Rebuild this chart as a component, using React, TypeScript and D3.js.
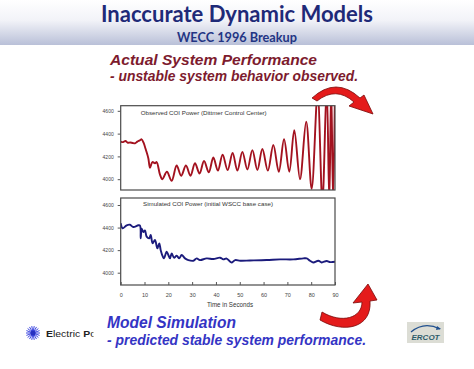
import React, { useEffect, useRef } from "react";
import * as d3 from "d3";

// observed COI power (Dittmer), seconds / MW
const observedTime = [
  0, 1, 2, 3, 4, 5, 6, 7, 8, 8.8, 9.6, 10.6, 11.6, 12.3, 13.3, 14.4, 15.1,
  16.5, 17.5, 19.4, 21.4, 23.5, 25.4, 27.4, 29.3, 31.2, 33.1, 35.0, 37.0,
  38.9, 40.8, 42.8, 44.9, 47.0, 49.0, 51.1, 53.2, 55.3, 57.4, 59.5, 61.8,
  64.1, 66.4, 68.6, 70.8, 72.9, 75.3, 77.9, 80.2, 82.7, 84.7, 86.5, 87.6,
  88.4, 89.2, 90,
];
const observedPower = [
  4330, 4325, 4335, 4320, 4322, 4318, 4315, 4330, 4340, 4350, 4320, 4256,
  4184, 4100, 4150, 4140, 4150, 4040, 4000, 4065, 3985, 4120, 4030, 4120,
  4030, 4140, 4050, 4160, 4060, 4190, 4075, 4215, 4080, 4230, 4075, 4240,
  4085, 4255, 4080, 4265, 4075, 4300, 4065, 4350, 4065, 4430, 4000, 4505,
  3915, 4760, 3800, 4820, 3800, 4820, 3800, 4820,
];

// simulated COI power (initial WSCC base case)
const simulatedTime = [
  0, 0.8, 2.5, 3.9, 5.3, 7.4, 8.1, 8.4, 8.8, 9.5, 10.2, 10.9, 12.0, 12.6,
  13.4, 14.4, 15.4, 16.2, 16.8, 17.7, 18.2, 19.3, 20.0, 20.7, 21.4, 22.4,
  23.5, 24.6, 25.6, 27.0, 28.4, 30.5, 31.9, 33.3, 36.1, 38.9, 41.7, 43.1,
  44.5, 46.0, 46.7, 48.1, 50.2, 54.3, 61.3, 66.9, 72.5, 76.7, 78.1, 79.5,
  80.9, 83.0, 84.4, 86.5, 88.0, 90,
];
const simulatedPower = [
  4438, 4394, 4420, 4425, 4405, 4420, 4418, 4305, 4390, 4360, 4375, 4320,
  4305, 4335, 4260, 4290, 4216, 4260, 4200, 4142, 4127, 4186, 4157, 4127,
  4171, 4133, 4150, 4127, 4157, 4127, 4112, 4106, 4127, 4112, 4127, 4121,
  4133, 4118, 4125, 4097, 4091, 4112, 4106, 4108, 4112, 4118, 4118, 4127,
  4127, 4106, 4091, 4106, 4091, 4104, 4094, 4097,
];

const powerTicks = [4000, 4200, 4400, 4600];
const timeTicks = [0, 10, 20, 30, 40, 50, 60, 70, 80, 90];

export default function App() {
  const ref = useRef<SVGSVGElement>(null);

  useEffect(() => {
    draw();
  }, []);

  const draw = () => {
    const svg = d3.select(ref.current);
    svg.selectAll("*").remove();
    const sans = "'Liberation Sans', Arial, sans-serif";

    // header band
    const defs = svg.append("defs");
    const grad = defs
      .append("linearGradient")
      .attr("id", "band")
      .attr("x1", 0)
      .attr("y1", 0)
      .attr("x2", 0)
      .attr("y2", 1);
    grad.append("stop").attr("offset", "0%").attr("stop-color", "#ffffff");
    grad.append("stop").attr("offset", "45%").attr("stop-color", "#f2f3f8");
    grad.append("stop").attr("offset", "100%").attr("stop-color", "#b9c0d8");
    svg.append("rect").attr("x", 0).attr("y", 0).attr("width", 474).attr("height", 45).attr("fill", "url(#band)");

    svg
      .append("text")
      .attr("x", 237)
      .attr("y", 22)
      .attr("text-anchor", "middle")
      .attr("font-family", "Lato, 'Open Sans', sans-serif")
      .attr("font-weight", 700)
      .attr("font-size", 22)
      .attr("textLength", 272)
      .attr("lengthAdjust", "spacingAndGlyphs")
      .attr("fill", "#1f2a78")
      .text("Inaccurate Dynamic Models");
    svg
      .append("text")
      .attr("x", 237)
      .attr("y", 41.5)
      .attr("text-anchor", "middle")
      .attr("font-family", "Lato, 'Open Sans', sans-serif")
      .attr("font-weight", 700)
      .attr("font-size", 13)
      .attr("textLength", 120)
      .attr("lengthAdjust", "spacingAndGlyphs")
      .attr("fill", "#233584")
      .text("WECC 1996 Breakup");

    const caption = (x: number, y: number, txt: string, w: number, size: number, color: string) =>
      svg
        .append("text")
        .attr("x", x)
        .attr("y", y)
        .attr("font-family", sans)
        .attr("font-weight", 700)
        .attr("font-style", "italic")
        .attr("font-size", size)
        .attr("textLength", w)
        .attr("lengthAdjust", "spacingAndGlyphs")
        .attr("fill", color)
        .text(txt);

    caption(110, 65, "Actual System Performance", 207, 14.5, "#7d1b2e");
    caption(110, 81, "- unstable system behavior observed.", 248, 14, "#7d1b2e");
    caption(107, 328, "Model Simulation", 129, 16.5, "#3434c4");
    caption(107, 345, "- predicted stable system performance.", 259, 14, "#3434c4");

    const x = d3.scaleLinear().domain([0, 90]).range([120.7, 335]);

    const panel = (
      id: string,
      top: number,
      bottom: number,
      domain: [number, number],
      times: number[],
      values: number[],
      color: string,
      label: string,
      labelX: number,
      labelY: number,
      labelW: number,
      showTime: boolean
    ) => {
      const y = d3.scaleLinear().domain(domain).range([bottom, top]);
      const g = svg.append("g");

      defs
        .append("clipPath")
        .attr("id", id)
        .append("rect")
        .attr("x", x(0))
        .attr("y", top)
        .attr("width", x(90) - x(0))
        .attr("height", bottom - top);

      g.append("rect")
        .attr("x", x(0))
        .attr("y", top)
        .attr("width", x(90) - x(0))
        .attr("height", bottom - top)
        .attr("fill", "#ffffff");

      const pts = times.map((t, i) => [t, values[i]] as [number, number]);
      const line = d3
        .line<[number, number]>()
        .x((d) => x(d[0]))
        .y((d) => y(d[1]))
        .curve(d3.curveCatmullRom.alpha(0.5));

      g.append("path")
        .attr("d", line(pts))
        .attr("clip-path", `url(#${id})`)
        .attr("fill", "none")
        .attr("stroke", color)
        .attr("stroke-width", 1.9)
        .attr("stroke-linejoin", "round");

      g.append("rect")
        .attr("x", x(0))
        .attr("y", top)
        .attr("width", x(90) - x(0))
        .attr("height", bottom - top)
        .attr("fill", "none")
        .attr("stroke", "#4a4a4a")
        .attr("stroke-width", 1.2);

      const yAxis = g
        .append("g")
        .attr("transform", `translate(${x(0)},0)`)
        .call(
          d3
            .axisLeft(y)
            .tickValues(powerTicks)
            .tickFormat(d3.format("d"))
            .tickSize(3)
            .tickPadding(4)
        );
      yAxis.select(".domain").remove();
      yAxis.selectAll("line").attr("stroke", "#555");
      yAxis
        .selectAll("text")
        .attr("font-family", sans)
        .attr("font-size", 5)
        .attr("fill", "#444");

      if (showTime) {
        const xAxis = g
          .append("g")
          .attr("transform", `translate(0,${bottom})`)
          .call(d3.axisBottom(x).tickValues(timeTicks).tickSize(-3).tickPadding(8));
        xAxis.select(".domain").remove();
        xAxis.selectAll("line").attr("stroke", "#555");
        xAxis
          .selectAll("text")
          .attr("font-family", sans)
          .attr("font-size", 5.5)
          .attr("fill", "#444");
        g.append("text")
          .attr("x", 230)
          .attr("y", bottom + 22)
          .attr("text-anchor", "middle")
          .attr("font-family", sans)
          .attr("font-size", 6.5)
          .attr("textLength", 46)
          .attr("lengthAdjust", "spacingAndGlyphs")
          .attr("fill", "#333")
          .text("Time in Seconds");
      }

      g.append("text")
        .attr("x", labelX)
        .attr("y", labelY)
        .attr("font-family", sans)
        .attr("font-size", 6.2)
        .attr("textLength", labelW)
        .attr("lengthAdjust", "spacingAndGlyphs")
        .attr("fill", "#333")
        .text(label);
    };

    panel("clipObs", 105.7, 190, [3905, 4645], observedTime, observedPower, "#a3121f",
      "Observed COI Power (Dittmer Control Center)", 140.7, 115, 126, false);
    panel("clipSim", 198, 285, [3891, 4662], simulatedTime, simulatedPower, "#1b1b7c",
      "Simulated COI Power (initial WSCC base case)", 143, 206, 130, true);

    // curved red arrows
    svg
      .append("path")
      .attr("d", "M312,98 Q336,76 360,98 L364,95 L373,114 L349,106 L354,102 Q336,86 317,101 Z")
      .attr("fill", "#e41b1b")
      .attr("stroke", "#7a0a0a")
      .attr("stroke-width", 0.8);
    svg
      .append("path")
      .attr("d", "M322,312 C342,324 362,318 362,302 L353,303 L368,284 L377,300 L370,301 C372,328 344,334 320,320 Z")
      .attr("fill", "#e41b1b")
      .attr("stroke", "#7a0a0a")
      .attr("stroke-width", 0.8);

    // left logo
    const star = svg.append("g").attr("transform", "translate(33,333)");
    d3.range(0, 360, 20).forEach((a) => {
      const r = (a * Math.PI) / 180;
      star
        .append("line")
        .attr("x1", 0)
        .attr("y1", 0)
        .attr("x2", 7 * Math.cos(r))
        .attr("y2", 7 * Math.sin(r))
        .attr("stroke", "#3a44e0")
        .attr("stroke-width", 1);
    });
    star.append("circle").attr("r", 2.5).attr("fill", "#2630c0");

    defs
      .append("clipPath")
      .attr("id", "logoClip")
      .append("rect")
      .attr("x", 40)
      .attr("y", 320)
      .attr("width", 53.5)
      .attr("height", 25);
    svg
      .append("text")
      .attr("x", 46)
      .attr("y", 336.5)
      .attr("clip-path", "url(#logoClip)")
      .attr("font-family", sans)
      .attr("font-size", 9.2)
      .attr("textLength", 50)
      .attr("lengthAdjust", "spacingAndGlyphs")
      .attr("fill", "#222")
      .html("<tspan font-weight='700'>E</tspan>lectric <tspan font-weight='700'>P</tspan>o");

    // ERCOT logo
    svg.append("rect").attr("x", 407).attr("y", 322).attr("width", 37).attr("height", 21).attr("fill", "#dcddd5");
    svg
      .append("path")
      .attr("d", "M411,332 Q424,321 440,329")
      .attr("fill", "none")
      .attr("stroke", "#1f4f8e")
      .attr("stroke-width", 1.3);
    svg
      .append("path")
      .attr("d", "M437,326 L441,329 L436,330 Z")
      .attr("fill", "#1f4f8e");
    svg
      .append("text")
      .attr("x", 425.5)
      .attr("y", 339.5)
      .attr("text-anchor", "middle")
      .attr("font-family", sans)
      .attr("font-size", 8)
      .attr("font-weight", 700)
      .attr("font-style", "italic")
      .attr("textLength", 28)
      .attr("lengthAdjust", "spacingAndGlyphs")
      .attr("fill", "#2d5c6b")
      .text("ERCOT");
  };

  return (
    <svg
      ref={ref}
      width={474}
      height={369}
      style={{ position: "absolute", left: 0, top: 0, background: "#ffffff" }}
    />
  );
}
